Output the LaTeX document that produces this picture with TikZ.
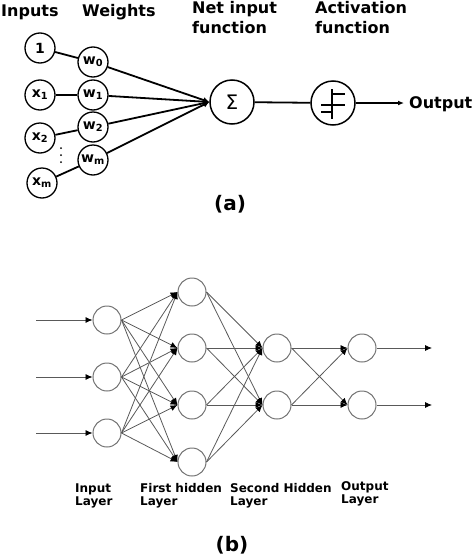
\documentclass[tikz,border=0pt]{standalone}
\usepackage{fontspec}
\setmainfont{DejaVu Sans}
\usetikzlibrary{arrows.meta}
\begin{document}
\begin{tikzpicture}[x=1pt,y=-1pt,
  neur/.style={circle,draw,line width=1.3pt,minimum size=30pt,inner sep=0pt,font=\bfseries\fontsize{14}{14}\selectfont},
  big/.style={circle,draw,line width=1.5pt,minimum size=44pt,inner sep=0pt},
  wire/.style={line width=1.8pt},
  hdr/.style={anchor=base west,inner sep=0pt,font=\bfseries\fontsize{16}{16}\selectfont},
  unit/.style={circle,draw=black!55,line width=1pt,minimum size=28pt,inner sep=0pt},
  link/.style={draw=black!65,line width=0.8pt,-{Latex[length=7pt,width=6pt,black]}},
  lbl/.style={anchor=base west,inner sep=0pt,font=\bfseries\fontsize{12}{12}\selectfont},
  capt/.style={font=\bfseries\fontsize{20}{20}\selectfont,inner sep=0pt}
]
\useasboundingbox (0,0) rectangle (474,557);
% ---------- (a) headers
\node[hdr] (hin) at (1,16) {Inputs};
\node[hdr] (hw) at (82,16) {Weights};
\node[hdr] (hn1) at (192,13) {Net input};
\node[hdr] (hn2) at (192,33) {function};
\node[hdr] (ha1) at (315,13) {Activation};
\node[hdr] (ha2) at (315,33) {function};
% inputs
\node[neur] (in0) at (40,48) {1};
\node[neur] (in1) at (40,95) {x\textsubscript{1}};
\node[neur] (in2) at (40,138) {x\textsubscript{2}};
\node[neur] (inm) at (42,183) {x\textsubscript{m}};
% weights
\node[neur] (w0) at (93,62) {w\textsubscript{0}};
\node[neur] (w1) at (93,95) {w\textsubscript{1}};
\node[neur] (w2) at (93,127) {w\textsubscript{2}};
\node[neur] (wm) at (93,160) {w\textsubscript{m}};
% dots
\fill (61,148) circle (1pt) (61,155) circle (1pt) (61,162) circle (1pt);
% sum and activation
\node[big] (sig) at (232,102) {\fontsize{20}{20}\selectfont Σ};
\node[big] (act) at (333,103) {};
\draw[line width=1.2pt]
  ([xshift=-1pt,yshift=14pt]act.center) -- ([xshift=-1pt,yshift=-16pt]act.center)
  ([xshift=-1pt,yshift=9pt]act.center) -- ([xshift=12pt,yshift=9pt]act.center)
  ([xshift=-12pt,yshift=-2pt]act.center) -- ([xshift=12pt,yshift=-2pt]act.center)
  ([xshift=-12pt,yshift=-9pt]act.center) -- ([xshift=-1pt,yshift=-9pt]act.center);
\node[hdr] (out) at (409,108) {Output};
\coordinate (oend) at (404,103);
% wires
\draw[wire] (in0) -- (w0);
\draw[wire] (in1) -- (w1);
\draw[wire] (in2) -- (w2);
\draw[wire] (inm) -- (wm);
\foreach \w in {w0,w1,w2,wm}
  \draw[wire,-{Latex[length=6pt,width=6pt]}] (\w) -- (sig.west);
\draw[wire] (sig) -- (act);
\draw[line width=1.3pt,-{Latex[length=6pt,width=5pt]}] (act) -- (oend);
\node[capt] (capa) at (230,204) {(a)};
% ---------- (b)
\foreach \n/\y in {1/320,2/377,3/433} {
  \node[unit] (i\n) at (107,\y) {};
  \coordinate (s\n) at (36,\y);
  \draw[link] (s\n) -- (i\n.west);
}
\foreach \n/\y in {1/292,2/348,3/405,4/462}
  \node[unit] (h\n) at (192,\y) {};
\foreach \n/\y in {1/348,2/405} {
  \node[unit] (k\n) at (277,\y) {};
  \node[unit] (o\n) at (362,\y) {};
  \coordinate (e\n) at (432,\y);
  \draw[link] (o\n.east) -- (e\n);
}
\foreach \a in {1,2,3}
  \foreach \b in {1,2,3,4}
    \draw[link] (i\a.east) -- (h\b.west);
\foreach \a in {1,2,3,4}
  \foreach \b in {1,2}
    \draw[link] (h\a.east) -- (k\b.west);
\foreach \a in {1,2}
  \foreach \b in {1,2}
    \draw[link] (k\a.east) -- (o\b.west);
\node[lbl] (l1a) at (75,492) {Input};
\node[lbl] (l1b) at (75,505) {Layer};
\node[lbl] (l2a) at (140,492) {First hidden};
\node[lbl] (l2b) at (140,505) {Layer};
\node[lbl] (l3a) at (230,492) {Second Hidden};
\node[lbl] (l3b) at (230,505) {Layer};
\node[lbl] (l4a) at (341,490) {Output};
\node[lbl] (l4b) at (341,503) {Layer};
\node[capt] (capb) at (232,545) {(b)};
\end{tikzpicture}
\end{document}
